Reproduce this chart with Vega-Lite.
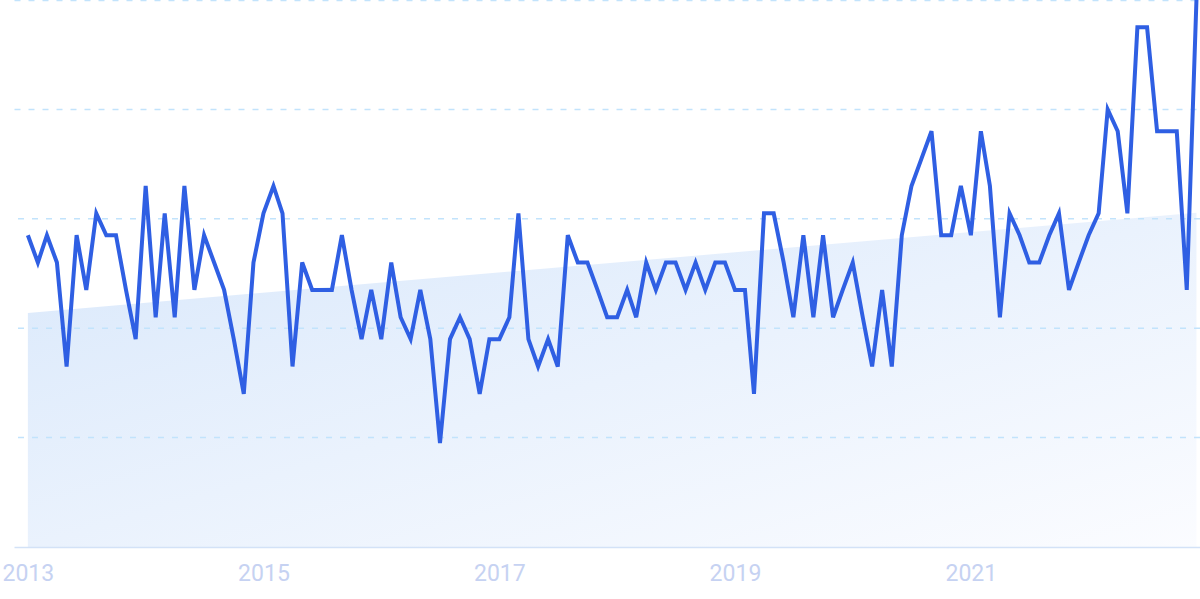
{
  "$schema": "https://vega.github.io/schema/vega-lite/v6.json",
  "width": 1186,
  "height": 547,
  "autosize": "none",
  "padding": {"left": 14, "top": 0, "right": 0, "bottom": 52},
  "background": "#ffffff",
  "datasets": {
    "trend": [
      {"month": "2013-01", "value": 42.8},
      {"month": "2022-12", "value": 61.1}
    ],
    "gridlines": [
      {"g": 20}, {"g": 40}, {"g": 60}
    ],
    "monthly": [
      {"month": "2013-01", "value": 57}, {"month": "2013-02", "value": 52}, {"month": "2013-03", "value": 57},
      {"month": "2013-04", "value": 52}, {"month": "2013-05", "value": 33}, {"month": "2013-06", "value": 57},
      {"month": "2013-07", "value": 47}, {"month": "2013-08", "value": 61}, {"month": "2013-09", "value": 57},
      {"month": "2013-10", "value": 57}, {"month": "2013-11", "value": 47}, {"month": "2013-12", "value": 38},
      {"month": "2014-01", "value": 66}, {"month": "2014-02", "value": 42}, {"month": "2014-03", "value": 61},
      {"month": "2014-04", "value": 42}, {"month": "2014-05", "value": 66}, {"month": "2014-06", "value": 47},
      {"month": "2014-07", "value": 57}, {"month": "2014-08", "value": 52}, {"month": "2014-09", "value": 47},
      {"month": "2014-10", "value": 38}, {"month": "2014-11", "value": 28}, {"month": "2014-12", "value": 52},
      {"month": "2015-01", "value": 61}, {"month": "2015-02", "value": 66}, {"month": "2015-03", "value": 61},
      {"month": "2015-04", "value": 33}, {"month": "2015-05", "value": 52}, {"month": "2015-06", "value": 47},
      {"month": "2015-07", "value": 47}, {"month": "2015-08", "value": 47}, {"month": "2015-09", "value": 57},
      {"month": "2015-10", "value": 47}, {"month": "2015-11", "value": 38}, {"month": "2015-12", "value": 47},
      {"month": "2016-01", "value": 38}, {"month": "2016-02", "value": 52}, {"month": "2016-03", "value": 42},
      {"month": "2016-04", "value": 38}, {"month": "2016-05", "value": 47}, {"month": "2016-06", "value": 38},
      {"month": "2016-07", "value": 19}, {"month": "2016-08", "value": 38}, {"month": "2016-09", "value": 42},
      {"month": "2016-10", "value": 38}, {"month": "2016-11", "value": 28}, {"month": "2016-12", "value": 38},
      {"month": "2017-01", "value": 38}, {"month": "2017-02", "value": 42}, {"month": "2017-03", "value": 61},
      {"month": "2017-04", "value": 38}, {"month": "2017-05", "value": 33}, {"month": "2017-06", "value": 38},
      {"month": "2017-07", "value": 33}, {"month": "2017-08", "value": 57}, {"month": "2017-09", "value": 52},
      {"month": "2017-10", "value": 52}, {"month": "2017-11", "value": 47}, {"month": "2017-12", "value": 42},
      {"month": "2018-01", "value": 42}, {"month": "2018-02", "value": 47}, {"month": "2018-03", "value": 42},
      {"month": "2018-04", "value": 52}, {"month": "2018-05", "value": 47}, {"month": "2018-06", "value": 52},
      {"month": "2018-07", "value": 52}, {"month": "2018-08", "value": 47}, {"month": "2018-09", "value": 52},
      {"month": "2018-10", "value": 47}, {"month": "2018-11", "value": 52}, {"month": "2018-12", "value": 52},
      {"month": "2019-01", "value": 47}, {"month": "2019-02", "value": 47}, {"month": "2019-03", "value": 28},
      {"month": "2019-04", "value": 61}, {"month": "2019-05", "value": 61}, {"month": "2019-06", "value": 52},
      {"month": "2019-07", "value": 42}, {"month": "2019-08", "value": 57}, {"month": "2019-09", "value": 42},
      {"month": "2019-10", "value": 57}, {"month": "2019-11", "value": 42}, {"month": "2019-12", "value": 47},
      {"month": "2020-01", "value": 52}, {"month": "2020-02", "value": 42}, {"month": "2020-03", "value": 33},
      {"month": "2020-04", "value": 47}, {"month": "2020-05", "value": 33}, {"month": "2020-06", "value": 57},
      {"month": "2020-07", "value": 66}, {"month": "2020-08", "value": 71}, {"month": "2020-09", "value": 76},
      {"month": "2020-10", "value": 57}, {"month": "2020-11", "value": 57}, {"month": "2020-12", "value": 66},
      {"month": "2021-01", "value": 57}, {"month": "2021-02", "value": 76}, {"month": "2021-03", "value": 66},
      {"month": "2021-04", "value": 42}, {"month": "2021-05", "value": 61}, {"month": "2021-06", "value": 57},
      {"month": "2021-07", "value": 52}, {"month": "2021-08", "value": 52}, {"month": "2021-09", "value": 57},
      {"month": "2021-10", "value": 61}, {"month": "2021-11", "value": 47}, {"month": "2021-12", "value": 52},
      {"month": "2022-01", "value": 57}, {"month": "2022-02", "value": 61}, {"month": "2022-03", "value": 80},
      {"month": "2022-04", "value": 76}, {"month": "2022-05", "value": 61}, {"month": "2022-06", "value": 95},
      {"month": "2022-07", "value": 95}, {"month": "2022-08", "value": 76}, {"month": "2022-09", "value": 76},
      {"month": "2022-10", "value": 76}, {"month": "2022-11", "value": 47}, {"month": "2022-12", "value": 100}
    ]
  },
  "layer": [
    {
      "data": {"name": "trend", "format": {"parse": {"month": "utc:'%Y-%m'"}}},
      "mark": {
        "type": "area",
        "color": {
          "gradient": "linear",
          "x1": 0, "y1": 0, "x2": 1, "y2": 1,
          "stops": [
            {"offset": 0, "color": "#d9e8fb"},
            {"offset": 1, "color": "#fbfcff"}
          ]
        }
      },
      "encoding": {
        "x": {
          "field": "month",
          "type": "temporal",
          "title": null,
          "scale": {
            "type": "utc",
            "domain": [
              {"year": 2012, "month": 11, "date": 19, "utc": true},
              {"year": 2022, "month": 12, "date": 12, "utc": true}
            ]
          },
          "axis": {
            "values": [
              {"year": 2013, "month": 1, "date": 1, "utc": true},
              {"year": 2015, "month": 1, "date": 1, "utc": true},
              {"year": 2017, "month": 1, "date": 1, "utc": true},
              {"year": 2019, "month": 1, "date": 1, "utc": true},
              {"year": 2021, "month": 1, "date": 1, "utc": true}
            ],
            "format": "%Y",
            "formatType": "utc",
            "grid": false,
            "ticks": false,
            "zindex": 1,
            "domainColor": "#d3e2f7",
            "domainWidth": 1.5,
            "labelColor": "#c6d2f2",
            "labelFont": "Roboto",
            "labelFontSize": 23,
            "labelPadding": 15,
            "labelFlush": false
          }
        },
        "y": {
          "field": "value",
          "type": "quantitative",
          "title": null,
          "scale": {"domain": [0, 100], "nice": false, "zero": true},
          "axis": {
            "values": [80, 100],
            "labels": false,
            "ticks": false,
            "domain": false,
            "grid": true,
            "gridColor": "#c2e3fc",
            "gridDash": [6, 8],
            "gridWidth": 1.5
          }
        },
        "y2": {"datum": 0}
      }
    },
    {
      "data": {"name": "gridlines"},
      "mark": {"type": "rule", "color": "#c2e3fc", "strokeDash": [6, 8], "strokeWidth": 1.5},
      "encoding": {
        "y": {"field": "g", "type": "quantitative"}
      }
    },
    {
      "data": {"name": "monthly", "format": {"parse": {"month": "utc:'%Y-%m'"}}},
      "mark": {"type": "line", "color": "#2f5fe3", "strokeWidth": 4},
      "encoding": {
        "x": {"field": "month", "type": "temporal"},
        "y": {"field": "value", "type": "quantitative"}
      }
    }
  ],
  "config": {
    "view": {"stroke": null}
  }
}
